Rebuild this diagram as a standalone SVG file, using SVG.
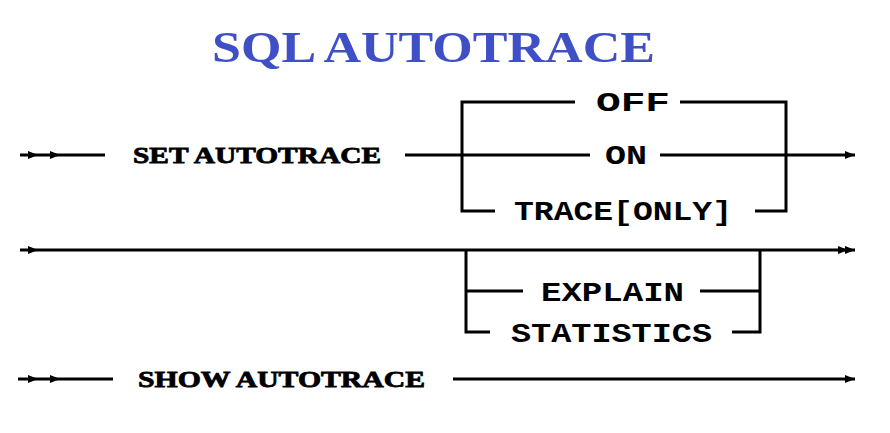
<svg xmlns="http://www.w3.org/2000/svg" width="890" height="433" viewBox="0 0 890 433">
<defs>
<marker id="a" viewBox="0 0 10 8" refX="10" refY="4" markerWidth="10" markerHeight="8" markerUnits="userSpaceOnUse" orient="auto"><path d="M0,0L10,4L0,8z" fill="#000"/></marker>
</defs>
<style>
.l{stroke:#000;stroke-width:3;fill:none}
.m{font-family:"Liberation Mono",monospace;font-weight:bold;font-size:28px;fill:#000}
.s{font-family:"Liberation Serif",serif;font-weight:bold;font-size:23px;fill:#000;stroke:#000;stroke-width:0.8}
</style>
<rect width="890" height="433" fill="#fff"/>
<text x="212" y="62" font-family="Liberation Serif,serif" font-weight="bold" font-size="45" fill="#3f4fc6" textLength="443" lengthAdjust="spacingAndGlyphs">SQL AUTOTRACE</text>
<g id="connectors">
<path class="l" d="M20,155H105"/>
<path d="M28,151L38,155L28,159z M50,151L60,155L50,159z" fill="#000"/>
<path class="l" d="M405,155H590 M660,155H855" marker-end="url(#a)"/>
<path class="l" d="M575,102H462V211H495 M680,102H786V211H755"/>
<path class="l" d="M20,250H855" marker-end="url(#a)"/>
<path d="M28,246L38,250L28,254z M838,246L848,250L838,254z" fill="#000"/>
<path class="l" d="M466,250V332H490 M466,291H523 M760,250V332H732 M760,291H700"/>
<path class="l" d="M18,379H113"/>
<path d="M28,375L38,379L28,383z M50,375L60,379L50,383z" fill="#000"/>
<path class="l" d="M453,379H855" marker-end="url(#a)"/>
</g>
<g id="set"><text class="s" x="133" y="163" textLength="248" lengthAdjust="spacingAndGlyphs">SET AUTOTRACE</text></g>
<g id="off"><text class="m" x="596" y="111" textLength="74" lengthAdjust="spacingAndGlyphs">OFF</text></g>
<g id="on"><text class="m" x="605" y="164" textLength="42" lengthAdjust="spacingAndGlyphs">ON</text></g>
<g id="trace"><text class="m" x="514" y="220" textLength="218" lengthAdjust="spacingAndGlyphs">TRACE[ONLY]</text></g>
<g id="explain"><text class="m" x="541" y="301" textLength="143" lengthAdjust="spacingAndGlyphs">EXPLAIN</text></g>
<g id="statistics"><text class="m" x="511" y="342" textLength="201" lengthAdjust="spacingAndGlyphs">STATISTICS</text></g>
<g id="show"><text class="s" x="138" y="387" textLength="287" lengthAdjust="spacingAndGlyphs">SHOW AUTOTRACE</text></g>
</svg>
